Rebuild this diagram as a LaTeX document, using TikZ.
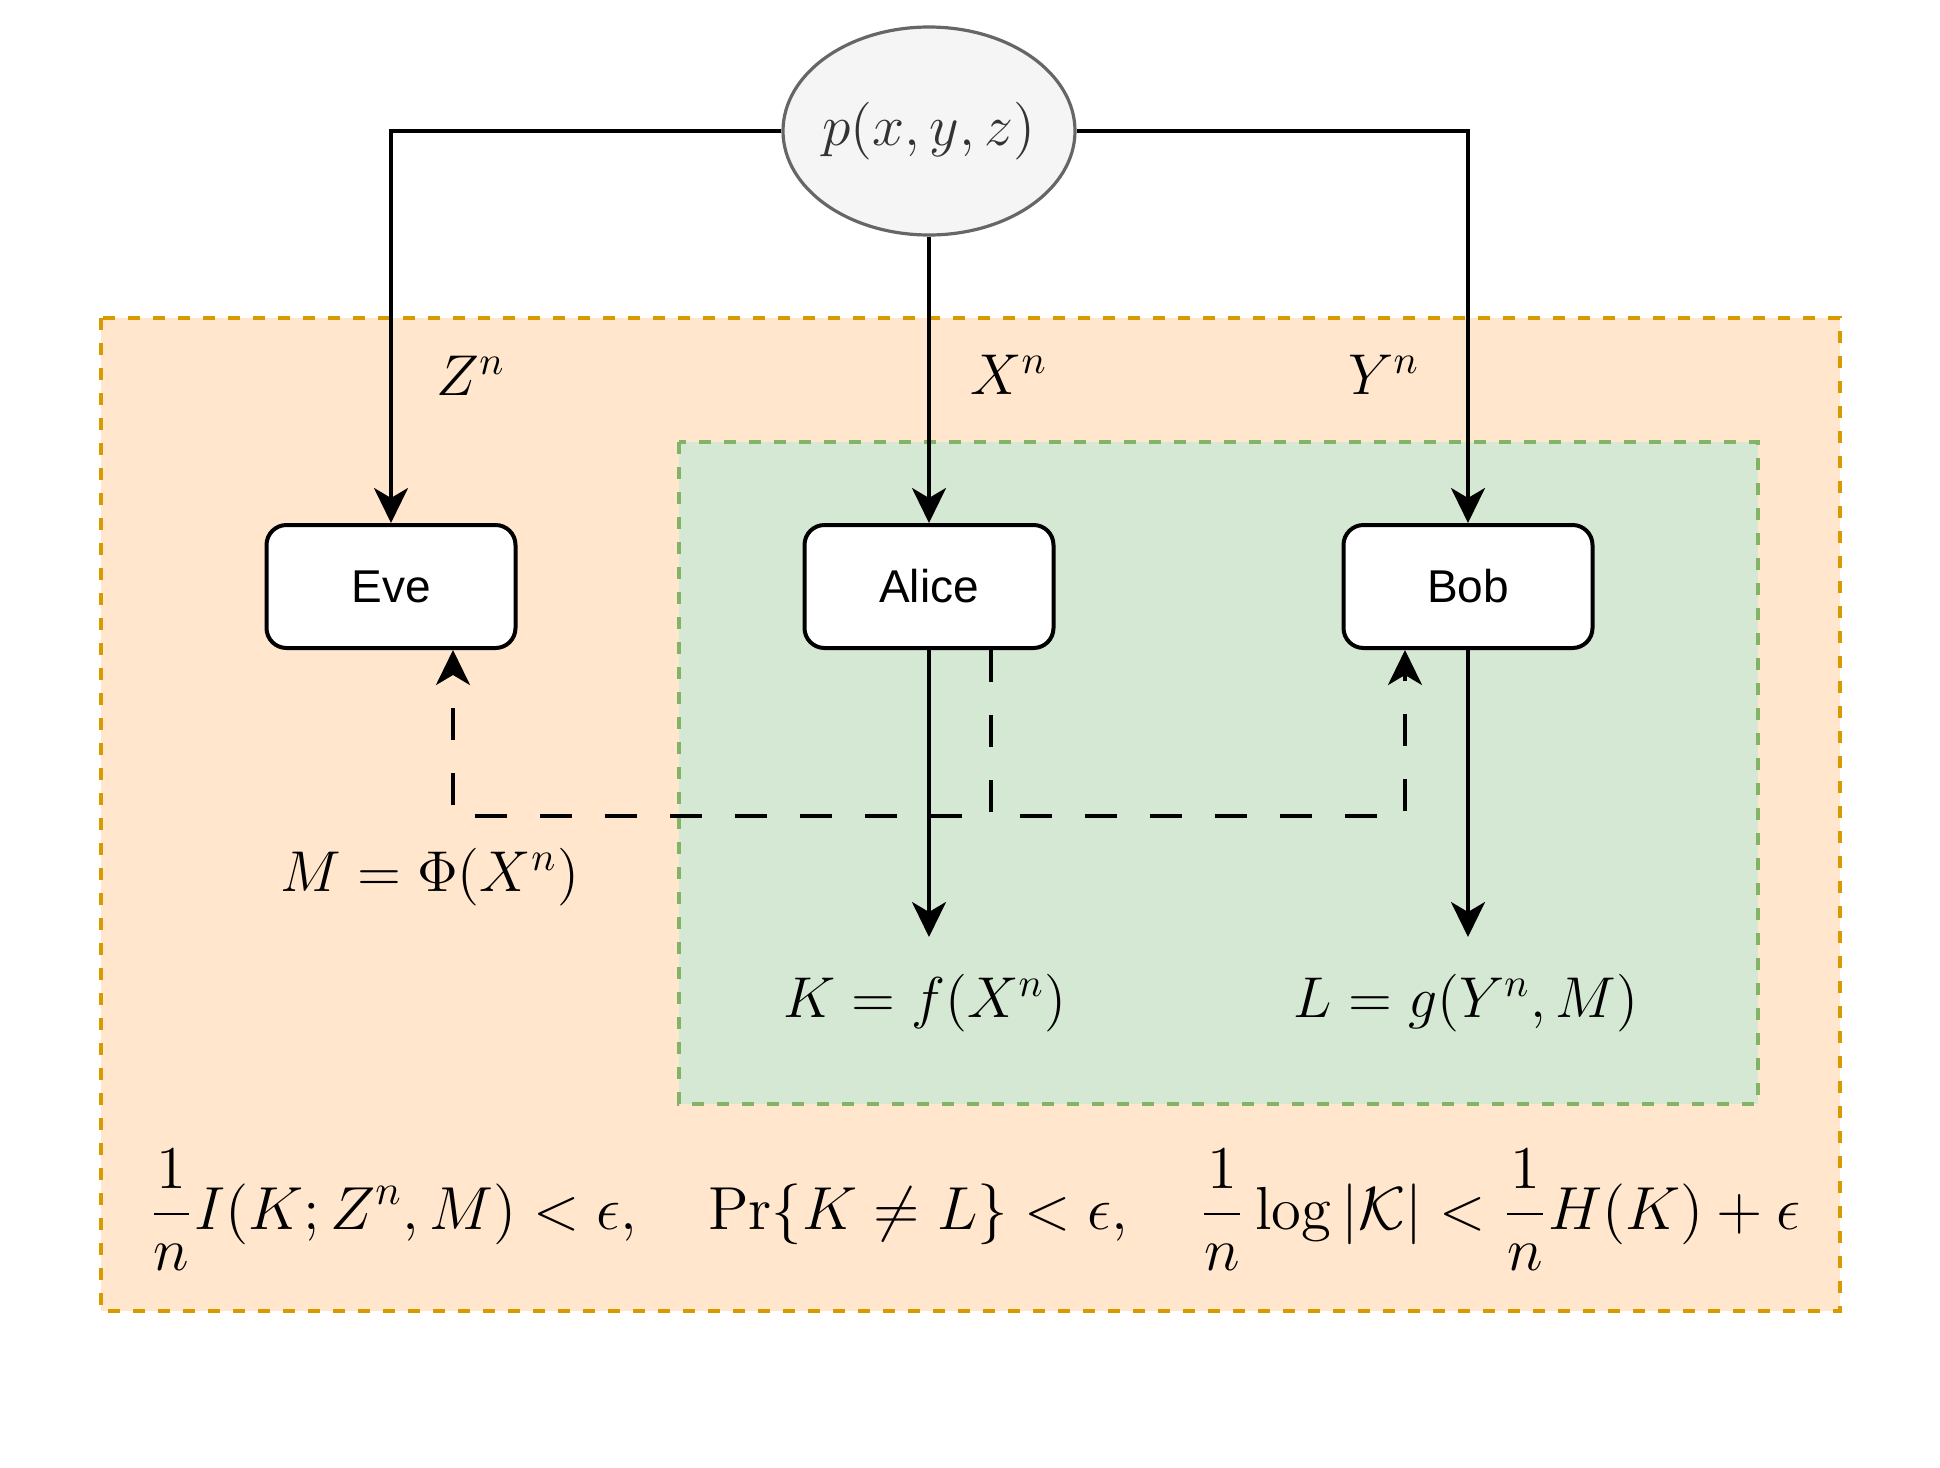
\documentclass[tikz,border=0pt]{standalone}
\usepackage{fontspec}
\usepackage{amsmath}
\newfontfamily\sansf{Liberation Sans}
\usetikzlibrary{arrows.meta,shapes.geometric}
\definecolor{orangefill}{HTML}{FFE6CC}
\definecolor{orangedraw}{HTML}{D79B00}
\definecolor{greenfill}{HTML}{D5E8D4}
\definecolor{greendraw}{HTML}{82B366}
\definecolor{ellfill}{HTML}{F5F5F5}
\definecolor{elldraw}{HTML}{666666}
\definecolor{elltext}{HTML}{333333}
\begin{document}
\begin{tikzpicture}[x=0.25pt,y=-0.25pt,
  agent/.style={draw=black, line width=1pt, fill=white, rounded corners=5pt,
    minimum width=62.25pt, minimum height=30.75pt, inner sep=0pt,
    font=\sansf\fontsize{11.5}{13}\selectfont},
  mathlbl/.style={inner sep=0pt, font=\fontsize{14.4}{17}\selectfont},
  flow/.style={line width=0.9pt, -{Stealth[length=8.75pt,width=8.5pt,inset=2.5pt]}},
  msg/.style={flow, dash pattern=on 8pt off 8.25pt},
  region/.style={line width=0.85pt, dash pattern=on 3pt off 3.25pt}
]
\useasboundingbox (0,0) rectangle (1940,1468);
\fill[white] (0,0) rectangle (1940,1468);
\draw[region, fill=orangefill, draw=orangedraw] (101,318) rectangle (1840,1311);
\draw[region, fill=greenfill, draw=greendraw] (679,442) rectangle (1758,1104);

\node[ellipse, draw=elldraw, fill=ellfill, line width=0.8pt, minimum width=73pt, minimum height=52pt, inner xsep=-1pt, inner ysep=0pt, text=elltext, font=\fontsize{14.4}{17}\selectfont] (src) at (929,131) {$p(x,y,z)$};
\node[agent] (eve) at (391,586.5) {Eve};
\node[agent] (alice) at (929,586.5) {Alice};
\node[agent] (bob) at (1468,586.5) {Bob};

\coordinate (kend) at (929,937);
\coordinate (lend) at (1468,937);

\draw[flow] (src.west) -| (eve.north);
\draw[flow] (src.east) -| (bob.north);
\draw[flow] (src.south) -- (alice.north);
\draw[flow] (alice.south) -- (kend);
\draw[flow] (bob.south) -- (lend);
\draw[msg] ([xshift=15.5pt]alice.south) -- ++(0,166) -| ([xshift=15.5pt]eve.south);
\draw[msg] ([xshift=15.5pt]alice.south) -- ++(0,166) -| ([xshift=-15.75pt]bob.south);

\node[mathlbl] (zn) at (471,376) {$Z^n$};
\node[mathlbl] (xn) at (1009,375) {$X^n$};
\node[mathlbl] (yn) at (1384,375) {$Y^n$};
\node[mathlbl] (mlbl) at (430,877) {$M=\Phi(X^n)$};
\node[mathlbl] (klbl) at (925,1003) {$K=f(X^n)$};
\node[mathlbl] (llbl) at (1466,1003) {$L=g(Y^n,M)$};
\node[mathlbl, anchor=west, scale=1.055] (cond) at (148,1210) {$\displaystyle \frac{1}{n}I(K;Z^n,M)<\epsilon,\quad \Pr\{K\neq L\}<\epsilon,\quad \frac{1}{n}\log|\mathcal{K}|<\frac{1}{n}H(K)+\epsilon$};
\end{tikzpicture}
\end{document}
